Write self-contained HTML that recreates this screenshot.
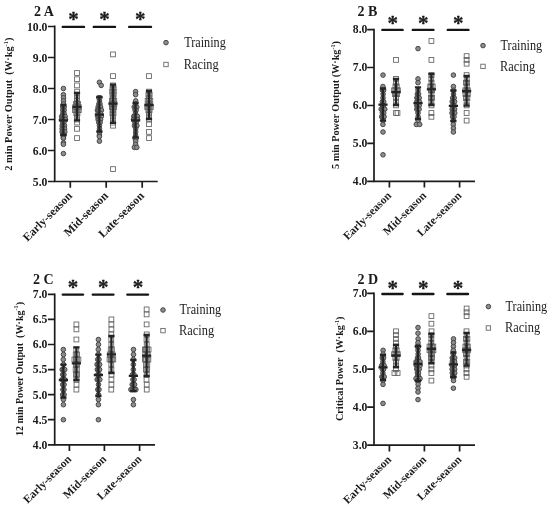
<!DOCTYPE html>
<html lang="en"><head><meta charset="utf-8"><title>Figure 2</title>
<style>
html,body{margin:0;padding:0;background:#fff;}
body{width:550px;height:508px;overflow:hidden;}
svg{display:block;font-family:"Liberation Serif",serif;}
.ttl{font-size:14px;font-weight:bold;fill:#1a1a1a;}
.tl{font-size:11.7px;font-weight:bold;fill:#1a1a1a;}
.xl{font-weight:bold;fill:#1a1a1a;}
.yl{font-size:11.3px;font-weight:bold;fill:#1a1a1a;}
.sup{font-size:6.8px;}
.lg{font-size:13.8px;fill:#222;}
.st{font-size:21px;font-weight:bold;fill:#1a1a1a;stroke:#1a1a1a;stroke-width:0.3;stroke-linejoin:round;}
.c{fill:#8c8c8c;stroke:#484848;stroke-width:1;}
.s{fill:none;stroke:#606060;stroke-width:0.85;}
.e{fill:none;stroke:#242424;stroke-width:2.3;}
.ax{fill:none;stroke:#1c1c1c;stroke-width:1.7;}
.sg{fill:none;stroke:#151515;stroke-width:2.4;stroke-linecap:round;}
</style></head><body>
<svg width="550" height="508" viewBox="0 0 550 508">
<rect width="550" height="508" fill="#fff"/>
<g>
<text x="34" y="15.8" class="ttl">2 A</text>
<circle cx="63.4" cy="88.5" r="2.3" class="c"/>
<circle cx="63.4" cy="94.7" r="2.3" class="c"/>
<circle cx="63.5" cy="97.8" r="2.3" class="c"/>
<circle cx="63.5" cy="100.9" r="2.3" class="c"/>
<circle cx="63.5" cy="104.0" r="2.3" class="c"/>
<circle cx="62.8" cy="107.1" r="2.3" class="c"/>
<circle cx="64.1" cy="107.1" r="2.3" class="c"/>
<circle cx="62.8" cy="110.2" r="2.3" class="c"/>
<circle cx="64.1" cy="110.2" r="2.3" class="c"/>
<circle cx="62.9" cy="113.3" r="2.3" class="c"/>
<circle cx="64.0" cy="113.3" r="2.3" class="c"/>
<circle cx="61.7" cy="116.4" r="2.3" class="c"/>
<circle cx="62.7" cy="116.4" r="2.3" class="c"/>
<circle cx="64.0" cy="116.4" r="2.3" class="c"/>
<circle cx="65.1" cy="116.4" r="2.3" class="c"/>
<circle cx="61.6" cy="119.5" r="2.3" class="c"/>
<circle cx="62.9" cy="119.5" r="2.3" class="c"/>
<circle cx="64.0" cy="119.5" r="2.3" class="c"/>
<circle cx="65.4" cy="119.5" r="2.3" class="c"/>
<circle cx="62.7" cy="122.6" r="2.3" class="c"/>
<circle cx="63.9" cy="122.6" r="2.3" class="c"/>
<circle cx="62.2" cy="125.7" r="2.3" class="c"/>
<circle cx="63.5" cy="125.7" r="2.3" class="c"/>
<circle cx="64.5" cy="125.7" r="2.3" class="c"/>
<circle cx="62.1" cy="128.8" r="2.3" class="c"/>
<circle cx="63.5" cy="128.8" r="2.3" class="c"/>
<circle cx="64.6" cy="128.8" r="2.3" class="c"/>
<circle cx="62.1" cy="131.9" r="2.3" class="c"/>
<circle cx="63.3" cy="131.9" r="2.3" class="c"/>
<circle cx="64.8" cy="131.9" r="2.3" class="c"/>
<circle cx="62.8" cy="135.0" r="2.3" class="c"/>
<circle cx="64.0" cy="135.0" r="2.3" class="c"/>
<circle cx="63.4" cy="138.1" r="2.3" class="c"/>
<circle cx="63.4" cy="138.1" r="2.3" class="c"/>
<circle cx="63.4" cy="142.8" r="2.3" class="c"/>
<circle cx="63.4" cy="144.3" r="2.3" class="c"/>
<circle cx="63.4" cy="153.6" r="2.3" class="c"/>
<path d="M63.4 105.0V135.0M60.3 105.0H66.5M60.3 135.0H66.5M58.8 120.4H68.0" class="e"/>
<rect x="74.6" y="70.6" width="4.8" height="4.8" class="s"/>
<rect x="74.6" y="76.8" width="4.8" height="4.8" class="s"/>
<rect x="74.6" y="83.0" width="4.8" height="4.8" class="s"/>
<rect x="74.7" y="89.2" width="4.8" height="4.8" class="s"/>
<rect x="74.5" y="92.3" width="4.8" height="4.8" class="s"/>
<rect x="74.7" y="95.4" width="4.8" height="4.8" class="s"/>
<rect x="74.5" y="98.5" width="4.8" height="4.8" class="s"/>
<rect x="73.4" y="101.6" width="4.8" height="4.8" class="s"/>
<rect x="74.7" y="101.6" width="4.8" height="4.8" class="s"/>
<rect x="75.8" y="101.6" width="4.8" height="4.8" class="s"/>
<rect x="72.8" y="104.7" width="4.8" height="4.8" class="s"/>
<rect x="73.8" y="104.7" width="4.8" height="4.8" class="s"/>
<rect x="75.3" y="104.7" width="4.8" height="4.8" class="s"/>
<rect x="76.3" y="104.7" width="4.8" height="4.8" class="s"/>
<rect x="72.6" y="107.8" width="4.8" height="4.8" class="s"/>
<rect x="74.1" y="107.8" width="4.8" height="4.8" class="s"/>
<rect x="75.2" y="107.8" width="4.8" height="4.8" class="s"/>
<rect x="76.4" y="107.8" width="4.8" height="4.8" class="s"/>
<rect x="73.9" y="110.9" width="4.8" height="4.8" class="s"/>
<rect x="75.1" y="110.9" width="4.8" height="4.8" class="s"/>
<rect x="74.6" y="114.0" width="4.8" height="4.8" class="s"/>
<rect x="74.7" y="117.1" width="4.8" height="4.8" class="s"/>
<rect x="74.7" y="120.2" width="4.8" height="4.8" class="s"/>
<rect x="74.6" y="126.4" width="4.8" height="4.8" class="s"/>
<rect x="74.6" y="135.7" width="4.8" height="4.8" class="s"/>
<path d="M77.0 93.0V120.4M73.9 93.0H80.1M73.9 120.4H80.1M72.4 106.8H81.6" class="e"/>
<circle cx="99.4" cy="82.3" r="2.3" class="c"/>
<circle cx="101.2" cy="85.4" r="2.3" class="c"/>
<circle cx="98.8" cy="97.8" r="2.3" class="c"/>
<circle cx="99.9" cy="97.8" r="2.3" class="c"/>
<circle cx="99.5" cy="100.9" r="2.3" class="c"/>
<circle cx="98.9" cy="104.0" r="2.3" class="c"/>
<circle cx="100.0" cy="104.0" r="2.3" class="c"/>
<circle cx="98.1" cy="107.1" r="2.3" class="c"/>
<circle cx="99.4" cy="107.1" r="2.3" class="c"/>
<circle cx="100.6" cy="107.1" r="2.3" class="c"/>
<circle cx="97.4" cy="110.2" r="2.3" class="c"/>
<circle cx="98.6" cy="110.2" r="2.3" class="c"/>
<circle cx="100.1" cy="110.2" r="2.3" class="c"/>
<circle cx="101.4" cy="110.2" r="2.3" class="c"/>
<circle cx="98.1" cy="113.3" r="2.3" class="c"/>
<circle cx="99.5" cy="113.3" r="2.3" class="c"/>
<circle cx="100.6" cy="113.3" r="2.3" class="c"/>
<circle cx="97.7" cy="116.4" r="2.3" class="c"/>
<circle cx="98.7" cy="116.4" r="2.3" class="c"/>
<circle cx="100.0" cy="116.4" r="2.3" class="c"/>
<circle cx="101.3" cy="116.4" r="2.3" class="c"/>
<circle cx="98.1" cy="119.5" r="2.3" class="c"/>
<circle cx="99.3" cy="119.5" r="2.3" class="c"/>
<circle cx="100.6" cy="119.5" r="2.3" class="c"/>
<circle cx="98.8" cy="122.6" r="2.3" class="c"/>
<circle cx="100.1" cy="122.6" r="2.3" class="c"/>
<circle cx="99.4" cy="125.7" r="2.3" class="c"/>
<circle cx="99.5" cy="128.8" r="2.3" class="c"/>
<circle cx="99.5" cy="131.9" r="2.3" class="c"/>
<circle cx="99.4" cy="135.0" r="2.3" class="c"/>
<circle cx="99.4" cy="136.6" r="2.3" class="c"/>
<circle cx="99.4" cy="141.2" r="2.3" class="c"/>
<path d="M99.4 96.8V131.5M96.3 96.8H102.5M96.3 131.5H102.5M94.8 114.6H104.0" class="e"/>
<rect x="110.6" y="52.0" width="4.8" height="4.8" class="s"/>
<rect x="110.6" y="73.7" width="4.8" height="4.8" class="s"/>
<rect x="110.6" y="83.0" width="4.8" height="4.8" class="s"/>
<rect x="110.1" y="86.1" width="4.8" height="4.8" class="s"/>
<rect x="111.3" y="86.1" width="4.8" height="4.8" class="s"/>
<rect x="109.8" y="89.2" width="4.8" height="4.8" class="s"/>
<rect x="111.2" y="89.2" width="4.8" height="4.8" class="s"/>
<rect x="110.0" y="92.3" width="4.8" height="4.8" class="s"/>
<rect x="111.3" y="92.3" width="4.8" height="4.8" class="s"/>
<rect x="110.6" y="95.4" width="4.8" height="4.8" class="s"/>
<rect x="109.4" y="98.5" width="4.8" height="4.8" class="s"/>
<rect x="110.6" y="98.5" width="4.8" height="4.8" class="s"/>
<rect x="111.9" y="98.5" width="4.8" height="4.8" class="s"/>
<rect x="109.3" y="101.6" width="4.8" height="4.8" class="s"/>
<rect x="110.7" y="101.6" width="4.8" height="4.8" class="s"/>
<rect x="111.9" y="101.6" width="4.8" height="4.8" class="s"/>
<rect x="109.5" y="104.7" width="4.8" height="4.8" class="s"/>
<rect x="110.6" y="104.7" width="4.8" height="4.8" class="s"/>
<rect x="111.8" y="104.7" width="4.8" height="4.8" class="s"/>
<rect x="110.5" y="107.8" width="4.8" height="4.8" class="s"/>
<rect x="110.0" y="110.9" width="4.8" height="4.8" class="s"/>
<rect x="111.1" y="110.9" width="4.8" height="4.8" class="s"/>
<rect x="110.5" y="114.0" width="4.8" height="4.8" class="s"/>
<rect x="110.5" y="117.1" width="4.8" height="4.8" class="s"/>
<rect x="110.6" y="120.2" width="4.8" height="4.8" class="s"/>
<rect x="110.6" y="123.3" width="4.8" height="4.8" class="s"/>
<rect x="110.6" y="166.7" width="4.8" height="4.8" class="s"/>
<path d="M113.0 84.6V122.8M109.9 84.6H116.1M109.9 122.8H116.1M108.4 103.6H117.6" class="e"/>
<circle cx="135.6" cy="91.6" r="2.3" class="c"/>
<circle cx="135.6" cy="94.7" r="2.3" class="c"/>
<circle cx="135.7" cy="100.9" r="2.3" class="c"/>
<circle cx="135.5" cy="104.0" r="2.3" class="c"/>
<circle cx="134.2" cy="107.1" r="2.3" class="c"/>
<circle cx="135.5" cy="107.1" r="2.3" class="c"/>
<circle cx="136.8" cy="107.1" r="2.3" class="c"/>
<circle cx="135.1" cy="110.2" r="2.3" class="c"/>
<circle cx="136.1" cy="110.2" r="2.3" class="c"/>
<circle cx="135.5" cy="113.3" r="2.3" class="c"/>
<circle cx="133.8" cy="116.4" r="2.3" class="c"/>
<circle cx="134.8" cy="116.4" r="2.3" class="c"/>
<circle cx="136.1" cy="116.4" r="2.3" class="c"/>
<circle cx="137.4" cy="116.4" r="2.3" class="c"/>
<circle cx="133.6" cy="119.5" r="2.3" class="c"/>
<circle cx="135.1" cy="119.5" r="2.3" class="c"/>
<circle cx="136.1" cy="119.5" r="2.3" class="c"/>
<circle cx="137.4" cy="119.5" r="2.3" class="c"/>
<circle cx="134.9" cy="122.6" r="2.3" class="c"/>
<circle cx="136.2" cy="122.6" r="2.3" class="c"/>
<circle cx="134.5" cy="125.7" r="2.3" class="c"/>
<circle cx="135.7" cy="125.7" r="2.3" class="c"/>
<circle cx="136.9" cy="125.7" r="2.3" class="c"/>
<circle cx="135.7" cy="128.8" r="2.3" class="c"/>
<circle cx="135.7" cy="131.9" r="2.3" class="c"/>
<circle cx="135.6" cy="135.0" r="2.3" class="c"/>
<circle cx="135.0" cy="138.1" r="2.3" class="c"/>
<circle cx="136.3" cy="138.1" r="2.3" class="c"/>
<circle cx="135.7" cy="141.2" r="2.3" class="c"/>
<circle cx="135.6" cy="144.3" r="2.3" class="c"/>
<circle cx="134.4" cy="147.4" r="2.3" class="c"/>
<circle cx="136.8" cy="147.4" r="2.3" class="c"/>
<path d="M135.6 103.0V137.4M132.5 103.0H138.7M132.5 137.4H138.7M131.0 120.4H140.2" class="e"/>
<rect x="146.6" y="73.7" width="4.8" height="4.8" class="s"/>
<rect x="146.7" y="89.2" width="4.8" height="4.8" class="s"/>
<rect x="146.0" y="92.3" width="4.8" height="4.8" class="s"/>
<rect x="147.3" y="92.3" width="4.8" height="4.8" class="s"/>
<rect x="146.6" y="95.4" width="4.8" height="4.8" class="s"/>
<rect x="145.2" y="98.5" width="4.8" height="4.8" class="s"/>
<rect x="146.6" y="98.5" width="4.8" height="4.8" class="s"/>
<rect x="147.9" y="98.5" width="4.8" height="4.8" class="s"/>
<rect x="146.0" y="101.6" width="4.8" height="4.8" class="s"/>
<rect x="147.2" y="101.6" width="4.8" height="4.8" class="s"/>
<rect x="144.8" y="104.7" width="4.8" height="4.8" class="s"/>
<rect x="145.9" y="104.7" width="4.8" height="4.8" class="s"/>
<rect x="147.1" y="104.7" width="4.8" height="4.8" class="s"/>
<rect x="148.4" y="104.7" width="4.8" height="4.8" class="s"/>
<rect x="145.9" y="107.8" width="4.8" height="4.8" class="s"/>
<rect x="147.2" y="107.8" width="4.8" height="4.8" class="s"/>
<rect x="146.7" y="110.9" width="4.8" height="4.8" class="s"/>
<rect x="146.5" y="114.0" width="4.8" height="4.8" class="s"/>
<rect x="146.7" y="117.1" width="4.8" height="4.8" class="s"/>
<rect x="146.6" y="121.8" width="4.8" height="4.8" class="s"/>
<rect x="146.6" y="129.5" width="4.8" height="4.8" class="s"/>
<rect x="146.6" y="135.7" width="4.8" height="4.8" class="s"/>
<path d="M149.0 91.0V119.0M145.9 91.0H152.1M145.9 119.0H152.1M144.4 105.0H153.6" class="e"/>
<path d="M54.7 25.6V181.5H157.7" class="ax" stroke-linejoin="miter"/>
<text x="47.4" y="185.8" class="tl" text-anchor="end">5.0</text>
<text x="47.4" y="154.8" class="tl" text-anchor="end">6.0</text>
<text x="47.4" y="123.8" class="tl" text-anchor="end">7.0</text>
<text x="47.4" y="92.8" class="tl" text-anchor="end">8.0</text>
<text x="47.4" y="61.8" class="tl" text-anchor="end">9.0</text>
<text x="47.4" y="30.8" class="tl" text-anchor="end">10.0</text>
<path d="M47.9 181.5H54.7M47.9 150.5H54.7M47.9 119.5H54.7M47.9 88.5H54.7M47.9 57.5H54.7M47.9 26.5H54.7M70.3 181.5V187.7M106.2 181.5V187.7M142.2 181.5V187.7" class="ax"/>
<text transform="translate(72.9 196.5) rotate(-45)" class="xl" font-size="11.7" text-anchor="end">Early-season</text>
<text transform="translate(108.8 196.5) rotate(-45)" class="xl" font-size="11.7" text-anchor="end">Mid-season</text>
<text transform="translate(144.8 196.5) rotate(-45)" class="xl" font-size="11.7" text-anchor="end">Late-season</text>
<path d="M62.8 26.9H84.0" class="sg"/>
<text transform="translate(73.6 26.3) scale(1 1.0)" class="st" text-anchor="middle">*</text>
<path d="M93.8 26.9H115.0" class="sg"/>
<text transform="translate(104.6 26.3) scale(1 1.0)" class="st" text-anchor="middle">*</text>
<path d="M129.2 26.9H151.0" class="sg"/>
<text transform="translate(140.3 26.3) scale(1 1.0)" class="st" text-anchor="middle">*</text>
<text transform="translate(11.9 170.7) rotate(-90)" class="yl" textLength="133.1" lengthAdjust="spacingAndGlyphs">2 min Power Output &#160;(W·kg<tspan class="sup" dy="-4.3">-1</tspan><tspan dy="4.3">)</tspan></text>
<circle cx="166" cy="42.6" r="2.3" class="c"/>
<rect x="163.8" y="62.3" width="4.4" height="4.4" class="s"/>
<text x="184.2" y="46.9" class="lg" textLength="41.6" lengthAdjust="spacingAndGlyphs">Training</text>
<text x="183.7" y="68.6" class="lg" textLength="35" lengthAdjust="spacingAndGlyphs">Racing</text>
</g>
<g>
<text x="357.4" y="15.6" class="ttl">2 B</text>
<circle cx="383.0" cy="75.1" r="2.3" class="c"/>
<circle cx="382.9" cy="86.5" r="2.3" class="c"/>
<circle cx="382.5" cy="90.3" r="2.3" class="c"/>
<circle cx="383.6" cy="90.3" r="2.3" class="c"/>
<circle cx="383.1" cy="94.1" r="2.3" class="c"/>
<circle cx="383.0" cy="97.9" r="2.3" class="c"/>
<circle cx="382.4" cy="101.7" r="2.3" class="c"/>
<circle cx="383.7" cy="101.7" r="2.3" class="c"/>
<circle cx="382.4" cy="105.5" r="2.3" class="c"/>
<circle cx="383.5" cy="105.5" r="2.3" class="c"/>
<circle cx="381.2" cy="109.2" r="2.3" class="c"/>
<circle cx="382.4" cy="109.2" r="2.3" class="c"/>
<circle cx="383.6" cy="109.2" r="2.3" class="c"/>
<circle cx="384.8" cy="109.2" r="2.3" class="c"/>
<circle cx="382.3" cy="113.0" r="2.3" class="c"/>
<circle cx="383.7" cy="113.0" r="2.3" class="c"/>
<circle cx="381.7" cy="116.8" r="2.3" class="c"/>
<circle cx="382.9" cy="116.8" r="2.3" class="c"/>
<circle cx="384.1" cy="116.8" r="2.3" class="c"/>
<circle cx="383.1" cy="120.6" r="2.3" class="c"/>
<circle cx="382.9" cy="124.4" r="2.3" class="c"/>
<circle cx="383.0" cy="132.0" r="2.3" class="c"/>
<circle cx="383.0" cy="154.8" r="2.3" class="c"/>
<path d="M383.0 88.5V120.6M379.9 88.5H386.1M379.9 120.6H386.1M378.4 104.6H387.6" class="e"/>
<rect x="393.6" y="57.5" width="4.8" height="4.8" class="s"/>
<rect x="393.6" y="76.5" width="4.8" height="4.8" class="s"/>
<rect x="393.6" y="80.3" width="4.8" height="4.8" class="s"/>
<rect x="393.0" y="84.1" width="4.8" height="4.8" class="s"/>
<rect x="394.4" y="84.1" width="4.8" height="4.8" class="s"/>
<rect x="391.7" y="87.9" width="4.8" height="4.8" class="s"/>
<rect x="393.0" y="87.9" width="4.8" height="4.8" class="s"/>
<rect x="394.4" y="87.9" width="4.8" height="4.8" class="s"/>
<rect x="395.5" y="87.9" width="4.8" height="4.8" class="s"/>
<rect x="392.4" y="91.7" width="4.8" height="4.8" class="s"/>
<rect x="393.5" y="91.7" width="4.8" height="4.8" class="s"/>
<rect x="394.8" y="91.7" width="4.8" height="4.8" class="s"/>
<rect x="393.6" y="95.5" width="4.8" height="4.8" class="s"/>
<rect x="393.6" y="99.3" width="4.8" height="4.8" class="s"/>
<rect x="393.6" y="103.0" width="4.8" height="4.8" class="s"/>
<rect x="393.6" y="110.6" width="4.8" height="4.8" class="s"/>
<rect x="395.1" y="110.6" width="4.8" height="4.8" class="s"/>
<path d="M396.0 79.0V105.0M392.9 79.0H399.1M392.9 105.0H399.1M391.4 92.0H400.6" class="e"/>
<circle cx="418.0" cy="48.6" r="2.3" class="c"/>
<circle cx="418.0" cy="78.9" r="2.3" class="c"/>
<circle cx="418.0" cy="82.7" r="2.3" class="c"/>
<circle cx="418.0" cy="90.3" r="2.3" class="c"/>
<circle cx="417.3" cy="94.1" r="2.3" class="c"/>
<circle cx="418.6" cy="94.1" r="2.3" class="c"/>
<circle cx="416.9" cy="97.9" r="2.3" class="c"/>
<circle cx="417.9" cy="97.9" r="2.3" class="c"/>
<circle cx="419.2" cy="97.9" r="2.3" class="c"/>
<circle cx="416.8" cy="101.7" r="2.3" class="c"/>
<circle cx="418.1" cy="101.7" r="2.3" class="c"/>
<circle cx="419.3" cy="101.7" r="2.3" class="c"/>
<circle cx="416.8" cy="105.5" r="2.3" class="c"/>
<circle cx="417.9" cy="105.5" r="2.3" class="c"/>
<circle cx="419.2" cy="105.5" r="2.3" class="c"/>
<circle cx="416.8" cy="109.2" r="2.3" class="c"/>
<circle cx="418.1" cy="109.2" r="2.3" class="c"/>
<circle cx="419.1" cy="109.2" r="2.3" class="c"/>
<circle cx="418.0" cy="113.0" r="2.3" class="c"/>
<circle cx="418.1" cy="116.8" r="2.3" class="c"/>
<circle cx="418.1" cy="120.6" r="2.3" class="c"/>
<circle cx="416.3" cy="124.4" r="2.3" class="c"/>
<circle cx="419.7" cy="124.4" r="2.3" class="c"/>
<path d="M418.0 87.4V119.0M414.9 87.4H421.1M414.9 119.0H421.1M413.4 103.2H422.6" class="e"/>
<rect x="429.0" y="38.6" width="4.8" height="4.8" class="s"/>
<rect x="429.0" y="57.5" width="4.8" height="4.8" class="s"/>
<rect x="429.1" y="72.7" width="4.8" height="4.8" class="s"/>
<rect x="428.9" y="76.5" width="4.8" height="4.8" class="s"/>
<rect x="429.1" y="80.3" width="4.8" height="4.8" class="s"/>
<rect x="427.8" y="84.1" width="4.8" height="4.8" class="s"/>
<rect x="428.9" y="84.1" width="4.8" height="4.8" class="s"/>
<rect x="430.3" y="84.1" width="4.8" height="4.8" class="s"/>
<rect x="428.5" y="87.9" width="4.8" height="4.8" class="s"/>
<rect x="429.7" y="87.9" width="4.8" height="4.8" class="s"/>
<rect x="429.1" y="91.7" width="4.8" height="4.8" class="s"/>
<rect x="428.5" y="95.5" width="4.8" height="4.8" class="s"/>
<rect x="429.7" y="95.5" width="4.8" height="4.8" class="s"/>
<rect x="429.0" y="99.3" width="4.8" height="4.8" class="s"/>
<rect x="429.1" y="103.0" width="4.8" height="4.8" class="s"/>
<rect x="429.0" y="110.6" width="4.8" height="4.8" class="s"/>
<rect x="429.0" y="114.4" width="4.8" height="4.8" class="s"/>
<path d="M431.4 74.0V105.0M428.3 74.0H434.5M428.3 105.0H434.5M426.8 89.4H436.0" class="e"/>
<circle cx="453.4" cy="75.1" r="2.3" class="c"/>
<circle cx="453.4" cy="86.5" r="2.3" class="c"/>
<circle cx="453.5" cy="90.3" r="2.3" class="c"/>
<circle cx="453.5" cy="94.1" r="2.3" class="c"/>
<circle cx="452.7" cy="97.9" r="2.3" class="c"/>
<circle cx="454.2" cy="97.9" r="2.3" class="c"/>
<circle cx="452.2" cy="101.7" r="2.3" class="c"/>
<circle cx="453.4" cy="101.7" r="2.3" class="c"/>
<circle cx="454.6" cy="101.7" r="2.3" class="c"/>
<circle cx="452.8" cy="105.5" r="2.3" class="c"/>
<circle cx="454.0" cy="105.5" r="2.3" class="c"/>
<circle cx="452.2" cy="109.2" r="2.3" class="c"/>
<circle cx="453.3" cy="109.2" r="2.3" class="c"/>
<circle cx="454.6" cy="109.2" r="2.3" class="c"/>
<circle cx="452.0" cy="113.0" r="2.3" class="c"/>
<circle cx="453.4" cy="113.0" r="2.3" class="c"/>
<circle cx="454.7" cy="113.0" r="2.3" class="c"/>
<circle cx="452.6" cy="116.8" r="2.3" class="c"/>
<circle cx="454.0" cy="116.8" r="2.3" class="c"/>
<circle cx="453.3" cy="120.6" r="2.3" class="c"/>
<circle cx="453.3" cy="124.4" r="2.3" class="c"/>
<circle cx="453.4" cy="128.2" r="2.3" class="c"/>
<circle cx="453.4" cy="132.0" r="2.3" class="c"/>
<path d="M453.4 90.5V121.0M450.3 90.5H456.5M450.3 121.0H456.5M448.8 105.8H458.0" class="e"/>
<rect x="464.2" y="53.7" width="4.8" height="4.8" class="s"/>
<rect x="464.2" y="57.5" width="4.8" height="4.8" class="s"/>
<rect x="464.2" y="61.3" width="4.8" height="4.8" class="s"/>
<rect x="464.2" y="72.7" width="4.8" height="4.8" class="s"/>
<rect x="464.3" y="76.5" width="4.8" height="4.8" class="s"/>
<rect x="463.5" y="80.3" width="4.8" height="4.8" class="s"/>
<rect x="464.8" y="80.3" width="4.8" height="4.8" class="s"/>
<rect x="464.3" y="84.1" width="4.8" height="4.8" class="s"/>
<rect x="462.9" y="87.9" width="4.8" height="4.8" class="s"/>
<rect x="464.1" y="87.9" width="4.8" height="4.8" class="s"/>
<rect x="465.4" y="87.9" width="4.8" height="4.8" class="s"/>
<rect x="463.0" y="91.7" width="4.8" height="4.8" class="s"/>
<rect x="464.2" y="91.7" width="4.8" height="4.8" class="s"/>
<rect x="465.4" y="91.7" width="4.8" height="4.8" class="s"/>
<rect x="463.5" y="95.5" width="4.8" height="4.8" class="s"/>
<rect x="465.0" y="95.5" width="4.8" height="4.8" class="s"/>
<rect x="464.2" y="99.3" width="4.8" height="4.8" class="s"/>
<rect x="464.2" y="103.0" width="4.8" height="4.8" class="s"/>
<rect x="464.2" y="110.6" width="4.8" height="4.8" class="s"/>
<rect x="464.2" y="118.2" width="4.8" height="4.8" class="s"/>
<path d="M466.6 76.0V105.6M463.5 76.0H469.7M463.5 105.6H469.7M462.0 91.0H471.2" class="e"/>
<path d="M374.0 28.7V181.3H475" class="ax" stroke-linejoin="miter"/>
<text x="367.4" y="184.8" class="tl" text-anchor="end">4.0</text>
<text x="367.4" y="146.9" class="tl" text-anchor="end">5.0</text>
<text x="367.4" y="109.0" class="tl" text-anchor="end">6.0</text>
<text x="367.4" y="71.0" class="tl" text-anchor="end">7.0</text>
<text x="367.4" y="33.1" class="tl" text-anchor="end">8.0</text>
<path d="M367.2 181.3H374.0M367.2 143.4H374.0M367.2 105.5H374.0M367.2 67.5H374.0M367.2 29.6H374.0M389.4 181.3V187.5M424.4 181.3V187.5M459.6 181.3V187.5" class="ax"/>
<text transform="translate(392.0 196.3) rotate(-45)" class="xl" font-size="11.4" text-anchor="end">Early-season</text>
<text transform="translate(427.0 196.3) rotate(-45)" class="xl" font-size="11.4" text-anchor="end">Mid-season</text>
<text transform="translate(462.2 196.3) rotate(-45)" class="xl" font-size="11.4" text-anchor="end">Late-season</text>
<path d="M382.4 29.9H402.6" class="sg"/>
<text transform="translate(392.7 30.3) scale(1 1.0)" class="st" text-anchor="middle">*</text>
<path d="M412.8 29.9H433.4" class="sg"/>
<text transform="translate(423.3 30.3) scale(1 1.0)" class="st" text-anchor="middle">*</text>
<path d="M447.8 29.9H468.4" class="sg"/>
<text transform="translate(458.3 30.3) scale(1 1.0)" class="st" text-anchor="middle">*</text>
<text transform="translate(339.1 169) rotate(-90)" class="yl" textLength="128.0" lengthAdjust="spacingAndGlyphs">5 min Power Output (W·kg<tspan class="sup" dy="-4.3">-1</tspan><tspan dy="4.3">)</tspan></text>
<circle cx="483" cy="45.6" r="2.3" class="c"/>
<rect x="480.8" y="64.2" width="4.4" height="4.4" class="s"/>
<text x="500.6" y="49.5" class="lg" textLength="41.6" lengthAdjust="spacingAndGlyphs">Training</text>
<text x="500.1" y="70.5" class="lg" textLength="35" lengthAdjust="spacingAndGlyphs">Racing</text>
</g>
<g>
<text x="33" y="284.4" class="ttl">2 C</text>
<circle cx="63.3" cy="349.5" r="2.3" class="c"/>
<circle cx="63.5" cy="354.5" r="2.3" class="c"/>
<circle cx="63.3" cy="359.5" r="2.3" class="c"/>
<circle cx="63.5" cy="364.5" r="2.3" class="c"/>
<circle cx="62.2" cy="369.6" r="2.3" class="c"/>
<circle cx="63.5" cy="369.6" r="2.3" class="c"/>
<circle cx="64.7" cy="369.6" r="2.3" class="c"/>
<circle cx="62.7" cy="374.6" r="2.3" class="c"/>
<circle cx="63.9" cy="374.6" r="2.3" class="c"/>
<circle cx="62.2" cy="379.6" r="2.3" class="c"/>
<circle cx="63.5" cy="379.6" r="2.3" class="c"/>
<circle cx="64.7" cy="379.6" r="2.3" class="c"/>
<circle cx="62.7" cy="384.6" r="2.3" class="c"/>
<circle cx="64.1" cy="384.6" r="2.3" class="c"/>
<circle cx="62.9" cy="389.6" r="2.3" class="c"/>
<circle cx="64.0" cy="389.6" r="2.3" class="c"/>
<circle cx="62.7" cy="394.6" r="2.3" class="c"/>
<circle cx="64.1" cy="394.6" r="2.3" class="c"/>
<circle cx="63.4" cy="399.6" r="2.3" class="c"/>
<circle cx="63.4" cy="404.7" r="2.3" class="c"/>
<circle cx="63.4" cy="419.7" r="2.3" class="c"/>
<path d="M63.4 364.6V397.6M60.3 364.6H66.5M60.3 397.6H66.5M58.8 380.0H68.0" class="e"/>
<rect x="74.0" y="322.0" width="4.8" height="4.8" class="s"/>
<rect x="74.0" y="327.0" width="4.8" height="4.8" class="s"/>
<rect x="74.0" y="337.1" width="4.8" height="4.8" class="s"/>
<rect x="73.9" y="347.1" width="4.8" height="4.8" class="s"/>
<rect x="73.3" y="352.1" width="4.8" height="4.8" class="s"/>
<rect x="74.6" y="352.1" width="4.8" height="4.8" class="s"/>
<rect x="72.0" y="357.1" width="4.8" height="4.8" class="s"/>
<rect x="73.5" y="357.1" width="4.8" height="4.8" class="s"/>
<rect x="74.5" y="357.1" width="4.8" height="4.8" class="s"/>
<rect x="76.0" y="357.1" width="4.8" height="4.8" class="s"/>
<rect x="73.5" y="362.1" width="4.8" height="4.8" class="s"/>
<rect x="74.7" y="362.1" width="4.8" height="4.8" class="s"/>
<rect x="73.2" y="367.2" width="4.8" height="4.8" class="s"/>
<rect x="74.5" y="367.2" width="4.8" height="4.8" class="s"/>
<rect x="73.5" y="372.2" width="4.8" height="4.8" class="s"/>
<rect x="74.7" y="372.2" width="4.8" height="4.8" class="s"/>
<rect x="74.1" y="377.2" width="4.8" height="4.8" class="s"/>
<rect x="74.1" y="382.2" width="4.8" height="4.8" class="s"/>
<rect x="74.0" y="387.2" width="4.8" height="4.8" class="s"/>
<path d="M76.4 347.4V380.0M73.3 347.4H79.5M73.3 380.0H79.5M71.8 363.4H81.0" class="e"/>
<circle cx="98.4" cy="339.5" r="2.3" class="c"/>
<circle cx="98.5" cy="344.5" r="2.3" class="c"/>
<circle cx="98.3" cy="349.5" r="2.3" class="c"/>
<circle cx="98.3" cy="354.5" r="2.3" class="c"/>
<circle cx="97.7" cy="359.5" r="2.3" class="c"/>
<circle cx="99.0" cy="359.5" r="2.3" class="c"/>
<circle cx="97.1" cy="364.5" r="2.3" class="c"/>
<circle cx="98.5" cy="364.5" r="2.3" class="c"/>
<circle cx="99.6" cy="364.5" r="2.3" class="c"/>
<circle cx="97.3" cy="369.6" r="2.3" class="c"/>
<circle cx="98.5" cy="369.6" r="2.3" class="c"/>
<circle cx="99.6" cy="369.6" r="2.3" class="c"/>
<circle cx="97.8" cy="374.6" r="2.3" class="c"/>
<circle cx="99.1" cy="374.6" r="2.3" class="c"/>
<circle cx="97.2" cy="379.6" r="2.3" class="c"/>
<circle cx="98.3" cy="379.6" r="2.3" class="c"/>
<circle cx="99.8" cy="379.6" r="2.3" class="c"/>
<circle cx="98.5" cy="384.6" r="2.3" class="c"/>
<circle cx="97.8" cy="389.6" r="2.3" class="c"/>
<circle cx="99.0" cy="389.6" r="2.3" class="c"/>
<circle cx="98.4" cy="394.6" r="2.3" class="c"/>
<circle cx="98.4" cy="399.6" r="2.3" class="c"/>
<circle cx="98.4" cy="404.7" r="2.3" class="c"/>
<circle cx="98.4" cy="419.7" r="2.3" class="c"/>
<path d="M98.4 354.6V396.0M95.3 354.6H101.5M95.3 396.0H101.5M93.8 375.0H103.0" class="e"/>
<rect x="109.0" y="317.0" width="4.8" height="4.8" class="s"/>
<rect x="109.0" y="322.0" width="4.8" height="4.8" class="s"/>
<rect x="109.0" y="327.0" width="4.8" height="4.8" class="s"/>
<rect x="108.9" y="332.0" width="4.8" height="4.8" class="s"/>
<rect x="108.9" y="337.1" width="4.8" height="4.8" class="s"/>
<rect x="108.9" y="342.1" width="4.8" height="4.8" class="s"/>
<rect x="108.3" y="347.1" width="4.8" height="4.8" class="s"/>
<rect x="109.5" y="347.1" width="4.8" height="4.8" class="s"/>
<rect x="107.6" y="352.1" width="4.8" height="4.8" class="s"/>
<rect x="108.9" y="352.1" width="4.8" height="4.8" class="s"/>
<rect x="110.2" y="352.1" width="4.8" height="4.8" class="s"/>
<rect x="107.1" y="357.1" width="4.8" height="4.8" class="s"/>
<rect x="108.4" y="357.1" width="4.8" height="4.8" class="s"/>
<rect x="109.5" y="357.1" width="4.8" height="4.8" class="s"/>
<rect x="110.9" y="357.1" width="4.8" height="4.8" class="s"/>
<rect x="108.9" y="362.1" width="4.8" height="4.8" class="s"/>
<rect x="109.0" y="367.2" width="4.8" height="4.8" class="s"/>
<rect x="109.1" y="372.2" width="4.8" height="4.8" class="s"/>
<rect x="109.0" y="377.2" width="4.8" height="4.8" class="s"/>
<rect x="109.0" y="382.2" width="4.8" height="4.8" class="s"/>
<rect x="108.9" y="387.2" width="4.8" height="4.8" class="s"/>
<path d="M111.4 336.0V373.0M108.3 336.0H114.5M108.3 373.0H114.5M106.8 354.4H116.0" class="e"/>
<circle cx="133.5" cy="349.5" r="2.3" class="c"/>
<circle cx="133.5" cy="354.5" r="2.3" class="c"/>
<circle cx="133.3" cy="359.5" r="2.3" class="c"/>
<circle cx="133.3" cy="364.5" r="2.3" class="c"/>
<circle cx="133.3" cy="369.6" r="2.3" class="c"/>
<circle cx="132.6" cy="374.6" r="2.3" class="c"/>
<circle cx="134.0" cy="374.6" r="2.3" class="c"/>
<circle cx="132.9" cy="379.6" r="2.3" class="c"/>
<circle cx="134.1" cy="379.6" r="2.3" class="c"/>
<circle cx="132.2" cy="384.6" r="2.3" class="c"/>
<circle cx="133.5" cy="384.6" r="2.3" class="c"/>
<circle cx="134.6" cy="384.6" r="2.3" class="c"/>
<circle cx="130.9" cy="389.6" r="2.3" class="c"/>
<circle cx="135.9" cy="389.6" r="2.3" class="c"/>
<circle cx="132.6" cy="389.6" r="2.3" class="c"/>
<circle cx="134.1" cy="389.6" r="2.3" class="c"/>
<circle cx="133.4" cy="399.6" r="2.3" class="c"/>
<circle cx="133.4" cy="404.7" r="2.3" class="c"/>
<path d="M133.4 360.0V391.0M130.3 360.0H136.5M130.3 391.0H136.5M128.8 375.8H138.0" class="e"/>
<rect x="144.2" y="307.0" width="4.8" height="4.8" class="s"/>
<rect x="144.2" y="312.0" width="4.8" height="4.8" class="s"/>
<rect x="144.2" y="322.0" width="4.8" height="4.8" class="s"/>
<rect x="144.3" y="332.0" width="4.8" height="4.8" class="s"/>
<rect x="144.1" y="337.1" width="4.8" height="4.8" class="s"/>
<rect x="144.3" y="342.1" width="4.8" height="4.8" class="s"/>
<rect x="142.5" y="347.1" width="4.8" height="4.8" class="s"/>
<rect x="143.4" y="347.1" width="4.8" height="4.8" class="s"/>
<rect x="144.7" y="347.1" width="4.8" height="4.8" class="s"/>
<rect x="146.2" y="347.1" width="4.8" height="4.8" class="s"/>
<rect x="142.9" y="352.1" width="4.8" height="4.8" class="s"/>
<rect x="144.3" y="352.1" width="4.8" height="4.8" class="s"/>
<rect x="145.4" y="352.1" width="4.8" height="4.8" class="s"/>
<rect x="142.4" y="357.1" width="4.8" height="4.8" class="s"/>
<rect x="143.6" y="357.1" width="4.8" height="4.8" class="s"/>
<rect x="145.0" y="357.1" width="4.8" height="4.8" class="s"/>
<rect x="146.0" y="357.1" width="4.8" height="4.8" class="s"/>
<rect x="143.6" y="362.1" width="4.8" height="4.8" class="s"/>
<rect x="144.9" y="362.1" width="4.8" height="4.8" class="s"/>
<rect x="143.5" y="367.2" width="4.8" height="4.8" class="s"/>
<rect x="144.8" y="367.2" width="4.8" height="4.8" class="s"/>
<rect x="144.3" y="372.2" width="4.8" height="4.8" class="s"/>
<rect x="144.1" y="377.2" width="4.8" height="4.8" class="s"/>
<rect x="144.3" y="382.2" width="4.8" height="4.8" class="s"/>
<rect x="144.3" y="387.2" width="4.8" height="4.8" class="s"/>
<path d="M146.6 335.0V376.0M143.5 335.0H149.7M143.5 376.0H149.7M142.0 355.6H151.2" class="e"/>
<path d="M54.7 293.4V444.8H155" class="ax" stroke-linejoin="miter"/>
<text x="47.4" y="448.7" class="tl" text-anchor="end">4.0</text>
<text x="47.4" y="423.6" class="tl" text-anchor="end">4.5</text>
<text x="47.4" y="398.5" class="tl" text-anchor="end">5.0</text>
<text x="47.4" y="373.4" class="tl" text-anchor="end">5.5</text>
<text x="47.4" y="348.4" class="tl" text-anchor="end">6.0</text>
<text x="47.4" y="323.3" class="tl" text-anchor="end">6.5</text>
<text x="47.4" y="298.2" class="tl" text-anchor="end">7.0</text>
<path d="M47.9 444.8H54.7M47.9 419.7H54.7M47.9 394.6H54.7M47.9 369.6H54.7M47.9 344.5H54.7M47.9 319.4H54.7M47.9 294.3H54.7M69.4 444.8V451.0M104.4 444.8V451.0M139.6 444.8V451.0" class="ax"/>
<text transform="translate(72.0 459.8) rotate(-45)" class="xl" font-size="11.4" text-anchor="end">Early-season</text>
<text transform="translate(107.0 459.8) rotate(-45)" class="xl" font-size="11.4" text-anchor="end">Mid-season</text>
<text transform="translate(142.2 459.8) rotate(-45)" class="xl" font-size="11.4" text-anchor="end">Late-season</text>
<path d="M62.8 294.6H83.0" class="sg"/>
<text transform="translate(73.1 294.4) scale(1 1.0)" class="st" text-anchor="middle">*</text>
<path d="M92.8 294.6H113.4" class="sg"/>
<text transform="translate(103.3 294.4) scale(1 1.0)" class="st" text-anchor="middle">*</text>
<path d="M127.4 294.6H148.0" class="sg"/>
<text transform="translate(137.9 294.4) scale(1 1.0)" class="st" text-anchor="middle">*</text>
<text transform="translate(22.5 436) rotate(-90)" class="yl" textLength="134.0" lengthAdjust="spacingAndGlyphs">12 min Power Output &#160;(W·kg<tspan class="sup" dy="-4.3">-1</tspan><tspan dy="4.3">)</tspan></text>
<circle cx="163" cy="310" r="2.3" class="c"/>
<rect x="160.8" y="328.4" width="4.4" height="4.4" class="s"/>
<text x="179.6" y="314.1" class="lg" textLength="41.6" lengthAdjust="spacingAndGlyphs">Training</text>
<text x="179.1" y="334.9" class="lg" textLength="35" lengthAdjust="spacingAndGlyphs">Racing</text>
</g>
<g>
<text x="357.4" y="284.2" class="ttl">2 D</text>
<circle cx="383.1" cy="350.3" r="2.3" class="c"/>
<circle cx="383.1" cy="354.1" r="2.3" class="c"/>
<circle cx="382.3" cy="357.9" r="2.3" class="c"/>
<circle cx="383.6" cy="357.9" r="2.3" class="c"/>
<circle cx="382.9" cy="361.7" r="2.3" class="c"/>
<circle cx="381.7" cy="365.5" r="2.3" class="c"/>
<circle cx="382.9" cy="365.5" r="2.3" class="c"/>
<circle cx="384.1" cy="365.5" r="2.3" class="c"/>
<circle cx="382.3" cy="369.2" r="2.3" class="c"/>
<circle cx="383.6" cy="369.2" r="2.3" class="c"/>
<circle cx="382.9" cy="373.0" r="2.3" class="c"/>
<circle cx="381.9" cy="376.8" r="2.3" class="c"/>
<circle cx="383.1" cy="376.8" r="2.3" class="c"/>
<circle cx="384.2" cy="376.8" r="2.3" class="c"/>
<circle cx="383.0" cy="380.6" r="2.3" class="c"/>
<circle cx="383.0" cy="384.4" r="2.3" class="c"/>
<circle cx="383.0" cy="403.4" r="2.3" class="c"/>
<path d="M383.0 355.0V380.0M379.9 355.0H386.1M379.9 380.0H386.1M378.4 367.3H387.6" class="e"/>
<rect x="393.6" y="328.9" width="4.8" height="4.8" class="s"/>
<rect x="393.5" y="332.7" width="4.8" height="4.8" class="s"/>
<rect x="393.5" y="336.5" width="4.8" height="4.8" class="s"/>
<rect x="393.6" y="340.3" width="4.8" height="4.8" class="s"/>
<rect x="393.5" y="344.1" width="4.8" height="4.8" class="s"/>
<rect x="392.9" y="347.9" width="4.8" height="4.8" class="s"/>
<rect x="394.3" y="347.9" width="4.8" height="4.8" class="s"/>
<rect x="391.7" y="351.7" width="4.8" height="4.8" class="s"/>
<rect x="393.1" y="351.7" width="4.8" height="4.8" class="s"/>
<rect x="394.3" y="351.7" width="4.8" height="4.8" class="s"/>
<rect x="395.4" y="351.7" width="4.8" height="4.8" class="s"/>
<rect x="392.9" y="355.5" width="4.8" height="4.8" class="s"/>
<rect x="394.3" y="355.5" width="4.8" height="4.8" class="s"/>
<rect x="393.6" y="359.3" width="4.8" height="4.8" class="s"/>
<rect x="393.5" y="363.1" width="4.8" height="4.8" class="s"/>
<rect x="393.5" y="366.9" width="4.8" height="4.8" class="s"/>
<rect x="392.0" y="370.6" width="4.8" height="4.8" class="s"/>
<rect x="395.2" y="370.6" width="4.8" height="4.8" class="s"/>
<path d="M396.0 345.0V367.0M392.9 345.0H399.1M392.9 367.0H399.1M391.4 355.5H400.6" class="e"/>
<circle cx="418.0" cy="327.5" r="2.3" class="c"/>
<circle cx="418.0" cy="333.2" r="2.3" class="c"/>
<circle cx="418.1" cy="338.9" r="2.3" class="c"/>
<circle cx="418.0" cy="342.7" r="2.3" class="c"/>
<circle cx="417.3" cy="346.5" r="2.3" class="c"/>
<circle cx="418.6" cy="346.5" r="2.3" class="c"/>
<circle cx="418.0" cy="350.3" r="2.3" class="c"/>
<circle cx="418.1" cy="354.1" r="2.3" class="c"/>
<circle cx="417.5" cy="357.9" r="2.3" class="c"/>
<circle cx="418.5" cy="357.9" r="2.3" class="c"/>
<circle cx="416.1" cy="361.7" r="2.3" class="c"/>
<circle cx="417.5" cy="361.7" r="2.3" class="c"/>
<circle cx="418.6" cy="361.7" r="2.3" class="c"/>
<circle cx="420.0" cy="361.7" r="2.3" class="c"/>
<circle cx="416.3" cy="365.5" r="2.3" class="c"/>
<circle cx="417.4" cy="365.5" r="2.3" class="c"/>
<circle cx="418.6" cy="365.5" r="2.3" class="c"/>
<circle cx="420.0" cy="365.5" r="2.3" class="c"/>
<circle cx="416.8" cy="369.2" r="2.3" class="c"/>
<circle cx="417.9" cy="369.2" r="2.3" class="c"/>
<circle cx="419.2" cy="369.2" r="2.3" class="c"/>
<circle cx="417.4" cy="373.0" r="2.3" class="c"/>
<circle cx="418.5" cy="373.0" r="2.3" class="c"/>
<circle cx="417.3" cy="376.8" r="2.3" class="c"/>
<circle cx="418.7" cy="376.8" r="2.3" class="c"/>
<circle cx="416.0" cy="378.7" r="2.3" class="c"/>
<circle cx="420.0" cy="378.7" r="2.3" class="c"/>
<circle cx="417.4" cy="380.6" r="2.3" class="c"/>
<circle cx="418.6" cy="380.6" r="2.3" class="c"/>
<circle cx="418.1" cy="384.4" r="2.3" class="c"/>
<circle cx="418.0" cy="388.2" r="2.3" class="c"/>
<circle cx="418.0" cy="392.0" r="2.3" class="c"/>
<circle cx="418.0" cy="399.6" r="2.3" class="c"/>
<path d="M418.0 346.0V381.0M414.9 346.0H421.1M414.9 381.0H421.1M413.4 364.0H422.6" class="e"/>
<rect x="429.0" y="313.7" width="4.8" height="4.8" class="s"/>
<rect x="429.0" y="321.3" width="4.8" height="4.8" class="s"/>
<rect x="429.1" y="328.9" width="4.8" height="4.8" class="s"/>
<rect x="428.9" y="332.7" width="4.8" height="4.8" class="s"/>
<rect x="429.0" y="336.5" width="4.8" height="4.8" class="s"/>
<rect x="428.9" y="340.3" width="4.8" height="4.8" class="s"/>
<rect x="427.1" y="344.1" width="4.8" height="4.8" class="s"/>
<rect x="428.3" y="344.1" width="4.8" height="4.8" class="s"/>
<rect x="429.7" y="344.1" width="4.8" height="4.8" class="s"/>
<rect x="430.9" y="344.1" width="4.8" height="4.8" class="s"/>
<rect x="427.1" y="347.9" width="4.8" height="4.8" class="s"/>
<rect x="428.4" y="347.9" width="4.8" height="4.8" class="s"/>
<rect x="429.6" y="347.9" width="4.8" height="4.8" class="s"/>
<rect x="431.0" y="347.9" width="4.8" height="4.8" class="s"/>
<rect x="428.5" y="351.7" width="4.8" height="4.8" class="s"/>
<rect x="429.6" y="351.7" width="4.8" height="4.8" class="s"/>
<rect x="428.5" y="355.5" width="4.8" height="4.8" class="s"/>
<rect x="429.7" y="355.5" width="4.8" height="4.8" class="s"/>
<rect x="429.0" y="359.3" width="4.8" height="4.8" class="s"/>
<rect x="429.0" y="363.1" width="4.8" height="4.8" class="s"/>
<rect x="429.0" y="366.9" width="4.8" height="4.8" class="s"/>
<rect x="429.0" y="370.6" width="4.8" height="4.8" class="s"/>
<rect x="429.0" y="378.2" width="4.8" height="4.8" class="s"/>
<path d="M431.4 334.0V363.0M428.3 334.0H434.5M428.3 363.0H434.5M426.8 349.0H436.0" class="e"/>
<circle cx="453.5" cy="338.9" r="2.3" class="c"/>
<circle cx="453.5" cy="342.7" r="2.3" class="c"/>
<circle cx="453.4" cy="346.5" r="2.3" class="c"/>
<circle cx="453.3" cy="350.3" r="2.3" class="c"/>
<circle cx="453.3" cy="354.1" r="2.3" class="c"/>
<circle cx="452.2" cy="357.9" r="2.3" class="c"/>
<circle cx="453.5" cy="357.9" r="2.3" class="c"/>
<circle cx="454.7" cy="357.9" r="2.3" class="c"/>
<circle cx="452.3" cy="361.7" r="2.3" class="c"/>
<circle cx="453.5" cy="361.7" r="2.3" class="c"/>
<circle cx="454.6" cy="361.7" r="2.3" class="c"/>
<circle cx="452.1" cy="365.5" r="2.3" class="c"/>
<circle cx="453.3" cy="365.5" r="2.3" class="c"/>
<circle cx="454.5" cy="365.5" r="2.3" class="c"/>
<circle cx="452.1" cy="369.2" r="2.3" class="c"/>
<circle cx="453.3" cy="369.2" r="2.3" class="c"/>
<circle cx="454.7" cy="369.2" r="2.3" class="c"/>
<circle cx="452.3" cy="373.0" r="2.3" class="c"/>
<circle cx="453.5" cy="373.0" r="2.3" class="c"/>
<circle cx="454.7" cy="373.0" r="2.3" class="c"/>
<circle cx="452.6" cy="376.8" r="2.3" class="c"/>
<circle cx="453.9" cy="376.8" r="2.3" class="c"/>
<circle cx="453.5" cy="380.6" r="2.3" class="c"/>
<circle cx="453.4" cy="388.2" r="2.3" class="c"/>
<path d="M453.4 352.5V377.0M450.3 352.5H456.5M450.3 377.0H456.5M448.8 364.4H458.0" class="e"/>
<rect x="464.2" y="306.1" width="4.8" height="4.8" class="s"/>
<rect x="464.2" y="309.9" width="4.8" height="4.8" class="s"/>
<rect x="464.2" y="313.7" width="4.8" height="4.8" class="s"/>
<rect x="464.1" y="328.9" width="4.8" height="4.8" class="s"/>
<rect x="464.2" y="332.7" width="4.8" height="4.8" class="s"/>
<rect x="463.5" y="336.5" width="4.8" height="4.8" class="s"/>
<rect x="465.0" y="336.5" width="4.8" height="4.8" class="s"/>
<rect x="464.2" y="340.3" width="4.8" height="4.8" class="s"/>
<rect x="463.0" y="344.1" width="4.8" height="4.8" class="s"/>
<rect x="464.3" y="344.1" width="4.8" height="4.8" class="s"/>
<rect x="465.4" y="344.1" width="4.8" height="4.8" class="s"/>
<rect x="462.8" y="347.9" width="4.8" height="4.8" class="s"/>
<rect x="464.2" y="347.9" width="4.8" height="4.8" class="s"/>
<rect x="465.5" y="347.9" width="4.8" height="4.8" class="s"/>
<rect x="463.5" y="351.7" width="4.8" height="4.8" class="s"/>
<rect x="464.9" y="351.7" width="4.8" height="4.8" class="s"/>
<rect x="464.2" y="355.5" width="4.8" height="4.8" class="s"/>
<rect x="463.6" y="359.3" width="4.8" height="4.8" class="s"/>
<rect x="464.9" y="359.3" width="4.8" height="4.8" class="s"/>
<rect x="464.1" y="363.1" width="4.8" height="4.8" class="s"/>
<rect x="464.1" y="366.9" width="4.8" height="4.8" class="s"/>
<rect x="464.1" y="370.6" width="4.8" height="4.8" class="s"/>
<rect x="464.2" y="374.4" width="4.8" height="4.8" class="s"/>
<path d="M466.6 333.0V365.6M463.5 333.0H469.7M463.5 365.6H469.7M462.0 350.0H471.2" class="e"/>
<path d="M374.0 292.4V445.2H475" class="ax" stroke-linejoin="miter"/>
<text x="367.4" y="448.7" class="tl" text-anchor="end">3.0</text>
<text x="367.4" y="410.7" class="tl" text-anchor="end">4.0</text>
<text x="367.4" y="372.8" class="tl" text-anchor="end">5.0</text>
<text x="367.4" y="334.8" class="tl" text-anchor="end">6.0</text>
<text x="367.4" y="296.8" class="tl" text-anchor="end">7.0</text>
<path d="M367.2 445.2H374.0M367.2 407.2H374.0M367.2 369.2H374.0M367.2 331.3H374.0M367.2 293.3H374.0M389.4 445.2V451.4M424.4 445.2V451.4M459.6 445.2V451.4" class="ax"/>
<text transform="translate(392.0 460.2) rotate(-45)" class="xl" font-size="11.4" text-anchor="end">Early-season</text>
<text transform="translate(427.0 460.2) rotate(-45)" class="xl" font-size="11.4" text-anchor="end">Mid-season</text>
<text transform="translate(462.2 460.2) rotate(-45)" class="xl" font-size="11.4" text-anchor="end">Late-season</text>
<path d="M382.4 294.0H402.6" class="sg"/>
<text transform="translate(392.7 294.7) scale(1 1.0)" class="st" text-anchor="middle">*</text>
<path d="M412.8 294.0H433.4" class="sg"/>
<text transform="translate(423.3 294.7) scale(1 1.0)" class="st" text-anchor="middle">*</text>
<path d="M447.4 294.0H468.0" class="sg"/>
<text transform="translate(457.9 294.7) scale(1 1.0)" class="st" text-anchor="middle">*</text>
<text transform="translate(342.8 421) rotate(-90)" class="yl" textLength="104.4" lengthAdjust="spacingAndGlyphs">Critical Power &#160;(W·kg<tspan class="sup" dy="-4.3">-1</tspan><tspan dy="4.3">)</tspan></text>
<circle cx="488.4" cy="306.6" r="2.3" class="c"/>
<rect x="486.2" y="325.8" width="4.4" height="4.4" class="s"/>
<text x="505.6" y="310.5" class="lg" textLength="41.6" lengthAdjust="spacingAndGlyphs">Training</text>
<text x="505.1" y="331.5" class="lg" textLength="35" lengthAdjust="spacingAndGlyphs">Racing</text>
</g>
</svg>
</body></html>
